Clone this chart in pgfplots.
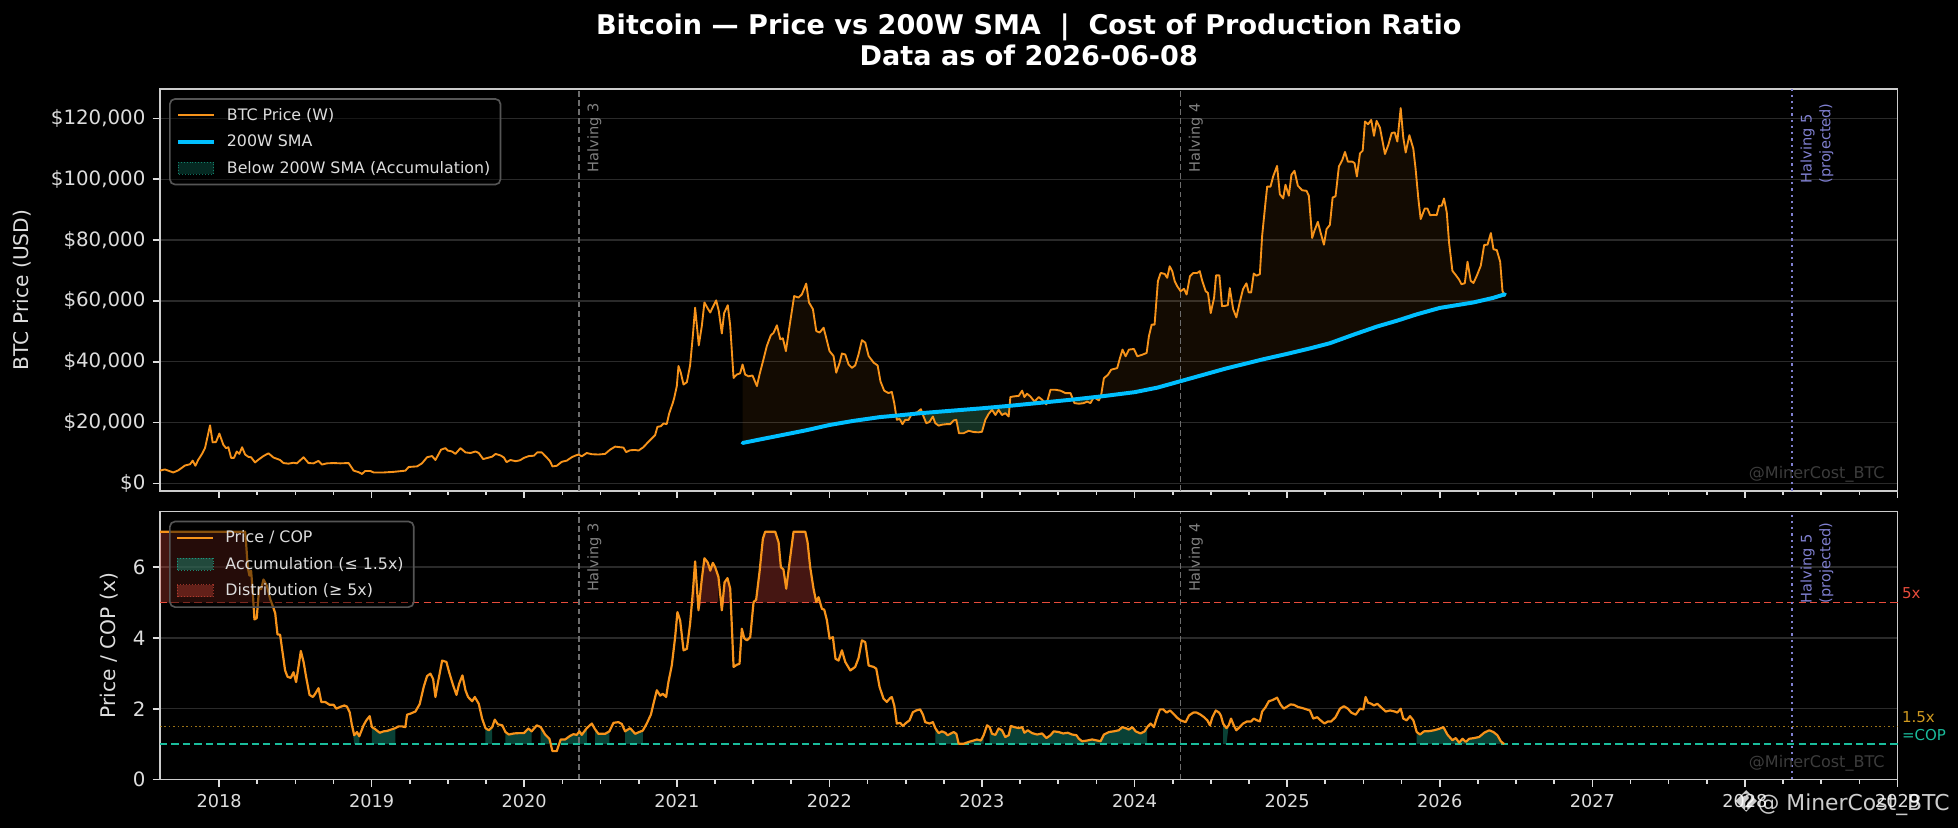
\documentclass[border=0pt]{standalone}
\usepackage{fontspec}
\setmainfont{DejaVu Sans}
\usepackage{pgfplots}
\pgfplotsset{compat=1.18}
\usepackage{pgfplotstable}
\pagecolor{black}
\definecolor{btc}{HTML}{F7931A}
\definecolor{sma}{HTML}{00BFFF}
\definecolor{acc}{HTML}{1ABC9C}
\definecolor{dist}{HTML}{E74C3C}
\definecolor{gridc}{HTML}{2A2A2A}
\definecolor{spine}{HTML}{CCCCCC}
\definecolor{tickc}{HTML}{DDDDDD}
\definecolor{halv}{HTML}{6E6E6E}
\definecolor{halvt}{HTML}{808080}
\definecolor{halv5}{HTML}{8080D0}
\definecolor{gold}{HTML}{D09A20}
\definecolor{legedge}{HTML}{555555}
\definecolor{wm}{HTML}{3C3C3C}

\pgfplotstableread{
x p
2017.613 4.2
2017.645 4.6
2017.700 3.6
2017.733 4.3
2017.777 5.9
2017.810 6.3
2017.827 7.5
2017.845 5.8
2017.864 7.8
2017.886 9.5
2017.908 11.6
2017.941 19.1
2017.958 13.5
2017.980 13.6
2018.002 16.4
2018.028 12.7
2018.046 11.6
2018.061 11.9
2018.079 8.4
2018.098 8.4
2018.116 10.5
2018.133 9.7
2018.151 11.9
2018.171 9.5
2018.193 8.7
2018.210 8.6
2018.236 6.9
2018.258 7.8
2018.291 9.0
2018.324 9.9
2018.357 8.5
2018.379 8.1
2018.400 7.7
2018.422 6.7
2018.455 6.5
2018.488 6.8
2018.510 6.6
2018.554 8.6
2018.586 6.7
2018.619 6.6
2018.652 7.4
2018.674 6.2
2018.707 6.6
2018.751 6.7
2018.794 6.6
2018.849 6.7
2018.882 4.2
2018.915 3.7
2018.937 3.1
2018.958 4.1
2018.991 4.1
2019.013 3.6
2019.079 3.6
2019.144 3.8
2019.221 4.2
2019.243 5.4
2019.298 5.6
2019.330 6.6
2019.363 8.6
2019.396 9.0
2019.418 7.7
2019.455 11.1
2019.484 11.6
2019.499 10.8
2019.527 10.5
2019.549 9.7
2019.582 11.6
2019.615 10.2
2019.648 10.0
2019.681 10.5
2019.702 10.0
2019.731 8.0
2019.768 8.5
2019.790 8.8
2019.812 9.7
2019.845 9.2
2019.867 8.5
2019.884 7.0
2019.910 7.7
2019.943 7.3
2019.972 7.6
2019.998 8.4
2020.031 9.0
2020.063 9.1
2020.085 10.2
2020.115 10.2
2020.148 8.5
2020.169 7.3
2020.185 5.6
2020.213 5.8
2020.246 7.1
2020.279 7.5
2020.311 8.6
2020.333 9.1
2020.355 9.5
2020.377 8.9
2020.410 10.0
2020.443 9.6
2020.486 9.5
2020.530 9.7
2020.563 11.1
2020.596 12.1
2020.628 11.9
2020.650 11.8
2020.668 10.3
2020.694 10.9
2020.727 11.0
2020.749 10.8
2020.781 11.9
2020.803 13.1
2020.836 14.8
2020.858 15.9
2020.873 18.6
2020.895 18.8
2020.913 19.7
2020.934 19.5
2020.950 23.0
2020.974 26.5
2020.983 28.1
2021.000 32.0
2021.011 38.6
2021.026 36.4
2021.044 32.5
2021.066 33.3
2021.087 38.8
2021.105 48.5
2021.120 57.8
2021.144 45.4
2021.164 51.8
2021.181 59.5
2021.203 57.5
2021.219 56.2
2021.240 58.4
2021.258 60.2
2021.275 56.7
2021.295 49.3
2021.310 56.0
2021.334 58.6
2021.350 51.8
2021.372 34.7
2021.393 35.8
2021.415 36.2
2021.431 39.1
2021.448 35.8
2021.470 35.2
2021.496 35.5
2021.525 32.0
2021.542 35.8
2021.568 40.8
2021.590 45.2
2021.616 48.7
2021.634 49.5
2021.656 52.0
2021.678 47.4
2021.695 47.7
2021.715 43.5
2021.739 51.8
2021.769 61.6
2021.798 61.1
2021.820 62.2
2021.848 65.7
2021.866 59.5
2021.892 57.3
2021.914 50.1
2021.936 49.6
2021.962 51.2
2021.984 46.9
2022.001 43.5
2022.027 41.9
2022.045 36.4
2022.067 39.7
2022.082 42.7
2022.104 42.4
2022.126 39.1
2022.148 38.0
2022.169 38.8
2022.191 42.4
2022.213 47.1
2022.235 46.3
2022.257 41.9
2022.290 39.7
2022.316 38.8
2022.335 33.5
2022.359 30.5
2022.387 29.7
2022.409 30.1
2022.425 26.4
2022.442 20.9
2022.460 21.2
2022.479 19.5
2022.497 20.9
2022.519 20.9
2022.540 22.9
2022.573 23.3
2022.600 24.4
2022.617 22.0
2022.635 19.8
2022.656 20.2
2022.678 22.0
2022.694 19.8
2022.716 19.0
2022.737 19.3
2022.770 19.5
2022.792 19.5
2022.814 20.7
2022.832 20.9
2022.849 16.5
2022.880 16.5
2022.912 17.3
2022.945 16.9
2022.978 16.8
2023.000 17.0
2023.022 20.9
2023.044 22.9
2023.066 24.2
2023.088 22.5
2023.109 24.2
2023.131 22.5
2023.153 23.1
2023.175 22.0
2023.186 28.4
2023.208 28.6
2023.241 28.8
2023.263 30.5
2023.278 28.4
2023.295 29.5
2023.317 28.6
2023.344 26.9
2023.372 28.4
2023.394 27.5
2023.422 26.0
2023.449 30.8
2023.481 30.8
2023.514 30.5
2023.547 29.7
2023.580 29.7
2023.606 26.4
2023.635 26.2
2023.667 26.4
2023.689 26.9
2023.711 26.4
2023.733 28.4
2023.766 27.3
2023.781 29.1
2023.799 34.6
2023.825 35.7
2023.847 37.4
2023.886 37.9
2023.904 41.2
2023.921 44.0
2023.941 41.8
2023.963 44.0
2023.996 44.2
2024.018 41.8
2024.050 42.3
2024.079 42.9
2024.094 48.4
2024.112 52.2
2024.131 52.2
2024.153 66.5
2024.171 69.2
2024.197 68.9
2024.214 67.6
2024.230 71.4
2024.247 69.8
2024.263 66.5
2024.280 64.8
2024.302 63.2
2024.324 64.0
2024.341 62.1
2024.363 68.1
2024.385 69.2
2024.411 69.2
2024.427 69.8
2024.444 66.5
2024.466 63.2
2024.481 62.6
2024.499 56.0
2024.521 61.0
2024.534 68.4
2024.556 68.4
2024.573 58.3
2024.595 58.4
2024.611 58.6
2024.624 64.2
2024.646 57.3
2024.667 54.6
2024.689 59.5
2024.711 63.9
2024.733 65.8
2024.748 62.8
2024.764 62.8
2024.781 69.0
2024.799 68.3
2024.821 68.8
2024.836 81.4
2024.858 92.4
2024.869 97.6
2024.891 97.6
2024.908 100.9
2024.934 104.4
2024.952 95.1
2024.974 93.7
2024.989 98.2
2025.011 94.6
2025.028 101.5
2025.048 102.8
2025.070 97.9
2025.098 96.4
2025.127 96.2
2025.142 94.6
2025.164 80.7
2025.179 83.1
2025.201 86.0
2025.219 82.5
2025.241 78.5
2025.258 83.6
2025.280 85.0
2025.298 94.0
2025.317 94.4
2025.339 104.2
2025.361 106.3
2025.379 109.0
2025.398 105.8
2025.427 105.8
2025.442 105.3
2025.457 100.9
2025.477 108.5
2025.495 109.4
2025.510 119.0
2025.530 118.1
2025.551 119.5
2025.569 114.3
2025.586 119.2
2025.608 117.0
2025.641 108.3
2025.663 111.3
2025.685 115.2
2025.705 115.4
2025.722 112.4
2025.744 123.4
2025.761 113.7
2025.777 108.8
2025.801 114.5
2025.827 110.0
2025.842 103.3
2025.860 93.5
2025.875 86.9
2025.902 90.4
2025.919 90.4
2025.937 88.2
2025.963 88.3
2025.980 88.2
2025.996 91.3
2026.013 91.3
2026.028 93.7
2026.046 89.1
2026.061 79.2
2026.083 69.9
2026.105 68.5
2026.127 67.0
2026.142 65.5
2026.164 65.8
2026.182 72.9
2026.203 66.6
2026.221 65.9
2026.243 68.3
2026.269 71.6
2026.291 78.4
2026.313 78.5
2026.335 82.3
2026.352 77.0
2026.374 76.7
2026.396 72.9
2026.411 63.3
2026.427 61.5
}\pricetab

\pgfplotstableread{
x s
2021.431 13.3
2021.55 14.5
2021.70 16.0
2021.85 17.5
2022.00 19.2
2022.15 20.5
2022.33 21.8
2022.44 22.3
2022.60 23.1
2022.80 23.9
2023.00 24.7
2023.20 25.6
2023.40 26.6
2023.60 27.6
2023.78 28.6
2024.00 30.0
2024.15 31.5
2024.30 33.6
2024.45 35.7
2024.60 37.8
2024.85 40.9
2025.00 42.6
2025.15 44.4
2025.28 46.1
2025.44 49.0
2025.59 51.6
2025.72 53.5
2025.85 55.6
2026.00 57.7
2026.22 59.5
2026.35 61.0
2026.427 62.2
}\smatab

\pgfplotstableread{
x r
2017.613 7.0
2018.171 7.0
2018.177 6.7
2018.188 6.0
2018.199 5.76
2018.210 5.9
2018.221 5.3
2018.232 4.52
2018.247 4.56
2018.263 5.43
2018.276 5.38
2018.291 5.65
2018.313 5.48
2018.335 5.1
2018.352 4.9
2018.368 4.7
2018.383 4.1
2018.400 4.09
2018.416 3.6
2018.433 3.08
2018.449 2.9
2018.470 2.87
2018.488 3.03
2018.505 2.75
2018.521 3.2
2018.536 3.63
2018.554 3.32
2018.571 2.89
2018.593 2.39
2018.615 2.33
2018.630 2.42
2018.652 2.58
2018.670 2.19
2018.696 2.19
2018.724 2.11
2018.751 2.11
2018.768 2.0
2018.794 2.05
2018.821 2.09
2018.838 2.06
2018.856 1.9
2018.871 1.53
2018.886 1.25
2018.904 1.34
2018.919 1.22
2018.947 1.53
2018.965 1.67
2018.987 1.79
2019.002 1.48
2019.024 1.42
2019.053 1.32
2019.079 1.36
2019.101 1.37
2019.127 1.41
2019.155 1.45
2019.177 1.5
2019.199 1.5
2019.221 1.48
2019.232 1.83
2019.254 1.86
2019.287 1.92
2019.315 2.13
2019.341 2.61
2019.363 2.92
2019.385 2.99
2019.403 2.84
2019.418 2.33
2019.435 2.75
2019.462 3.36
2019.490 3.32
2019.508 3.03
2019.534 2.66
2019.556 2.39
2019.573 2.70
2019.595 2.94
2019.615 2.52
2019.632 2.33
2019.659 2.21
2019.676 2.33
2019.702 2.14
2019.724 1.72
2019.746 1.45
2019.768 1.39
2019.790 1.48
2019.807 1.69
2019.827 1.56
2019.856 1.53
2019.877 1.34
2019.899 1.27
2019.932 1.30
2019.965 1.31
2019.998 1.31
2020.027 1.44
2020.049 1.36
2020.082 1.53
2020.108 1.48
2020.137 1.27
2020.165 1.15
2020.185 0.80
2020.213 0.80
2020.239 1.13
2020.268 1.13
2020.296 1.22
2020.322 1.28
2020.344 1.26
2020.362 1.36
2020.377 1.26
2020.410 1.45
2020.443 1.58
2020.464 1.42
2020.486 1.29
2020.530 1.29
2020.558 1.36
2020.585 1.6
2020.617 1.62
2020.639 1.57
2020.661 1.36
2020.694 1.45
2020.727 1.29
2020.753 1.34
2020.777 1.38
2020.803 1.58
2020.830 1.83
2020.847 2.14
2020.869 2.52
2020.891 2.37
2020.908 2.42
2020.930 2.33
2020.945 2.75
2020.967 3.22
2020.989 4.02
2021.004 4.73
2021.022 4.49
2021.044 3.65
2021.066 3.69
2021.087 4.4
2021.105 5.29
2021.120 6.16
2021.142 4.78
2021.164 5.67
2021.181 6.25
2021.203 6.13
2021.219 5.9
2021.236 6.12
2021.251 6.0
2021.273 5.72
2021.295 4.78
2021.313 5.57
2021.332 5.69
2021.350 5.39
2021.372 3.18
2021.393 3.24
2021.411 3.27
2021.426 4.26
2021.442 3.99
2021.459 3.93
2021.481 4.02
2021.503 5.01
2021.520 5.08
2021.542 5.86
2021.564 6.8
2021.579 7.0
2021.645 7.0
2021.667 6.7
2021.682 6.0
2021.699 5.93
2021.717 5.39
2021.739 6.14
2021.765 7.0
2021.842 7.0
2021.857 6.7
2021.874 6.0
2021.896 5.39
2021.914 5.01
2021.929 5.15
2021.951 4.82
2021.966 4.80
2021.984 4.49
2022.001 3.98
2022.023 4.02
2022.040 3.41
2022.060 3.36
2022.082 3.65
2022.104 3.32
2022.137 3.08
2022.169 3.18
2022.191 3.43
2022.213 3.93
2022.235 3.88
2022.257 3.22
2022.290 3.18
2022.307 3.13
2022.329 2.61
2022.355 2.28
2022.376 2.19
2022.398 2.30
2022.409 2.33
2022.425 2.09
2022.442 1.58
2022.464 1.60
2022.481 1.51
2022.503 1.60
2022.525 1.67
2022.547 1.9
2022.569 1.95
2022.595 1.98
2022.613 1.83
2022.628 1.62
2022.656 1.58
2022.678 1.62
2022.694 1.45
2022.716 1.31
2022.737 1.36
2022.759 1.32
2022.775 1.25
2022.792 1.29
2022.814 1.34
2022.832 1.29
2022.847 1.01
2022.880 1.01
2022.912 1.06
2022.945 1.10
2022.967 1.13
2022.993 1.10
2023.011 1.25
2023.033 1.53
2023.050 1.48
2023.066 1.29
2023.088 1.26
2023.109 1.44
2023.131 1.39
2023.153 1.2
2023.175 1.25
2023.190 1.51
2023.212 1.48
2023.241 1.45
2023.263 1.48
2023.278 1.32
2023.300 1.39
2023.328 1.31
2023.361 1.27
2023.394 1.30
2023.422 1.17
2023.449 1.25
2023.470 1.36
2023.503 1.34
2023.532 1.30
2023.562 1.32
2023.591 1.27
2023.619 1.25
2023.635 1.15
2023.656 1.08
2023.689 1.10
2023.722 1.13
2023.755 1.10
2023.777 1.08
2023.799 1.27
2023.832 1.34
2023.864 1.36
2023.897 1.39
2023.919 1.48
2023.941 1.45
2023.963 1.41
2023.985 1.48
2024.007 1.36
2024.039 1.30
2024.066 1.36
2024.083 1.48
2024.105 1.58
2024.127 1.48
2024.144 1.72
2024.166 1.98
2024.188 1.98
2024.210 1.89
2024.232 1.95
2024.254 1.86
2024.280 1.74
2024.302 1.67
2024.335 1.62
2024.357 1.81
2024.385 1.89
2024.407 1.89
2024.433 1.83
2024.455 1.76
2024.477 1.67
2024.494 1.53
2024.510 1.76
2024.532 1.95
2024.554 1.89
2024.566 1.80
2024.580 1.58
2024.602 1.45
2024.617 1.53
2024.632 1.72
2024.650 1.53
2024.667 1.39
2024.689 1.48
2024.711 1.58
2024.737 1.64
2024.764 1.64
2024.781 1.72
2024.803 1.67
2024.821 1.64
2024.836 1.92
2024.858 2.04
2024.880 2.21
2024.902 2.24
2024.934 2.31
2024.956 2.12
2024.978 2.0
2024.996 2.05
2025.022 2.12
2025.044 2.11
2025.070 2.05
2025.098 2.02
2025.127 1.98
2025.149 1.95
2025.171 1.72
2025.197 1.76
2025.219 1.67
2025.245 1.58
2025.267 1.64
2025.289 1.64
2025.317 1.76
2025.346 2.0
2025.372 2.07
2025.398 2.0
2025.420 1.89
2025.449 1.83
2025.477 2.0
2025.499 1.98
2025.514 2.33
2025.530 2.17
2025.551 2.14
2025.569 2.09
2025.591 2.14
2025.613 2.05
2025.646 1.92
2025.674 1.95
2025.705 1.92
2025.722 1.89
2025.744 2.0
2025.761 1.72
2025.783 1.67
2025.805 1.79
2025.827 1.67
2025.849 1.34
2025.871 1.27
2025.897 1.36
2025.923 1.36
2025.963 1.39
2025.996 1.43
2026.024 1.48
2026.050 1.27
2026.083 1.11
2026.105 1.17
2026.127 1.04
2026.149 1.15
2026.171 1.06
2026.193 1.15
2026.225 1.17
2026.258 1.20
2026.291 1.32
2026.324 1.39
2026.352 1.34
2026.378 1.25
2026.400 1.08
2026.422 1.0
}\ratiotab

\tikzset{
  wmark/.style={anchor=south east, text=wm, font=\fontsize{7.7}{9}\selectfont, inner sep=0pt},
  hlab/.style={xshift=3.8pt, rotate=90, anchor=north east, inner sep=0pt},
}
\pgfplotsset{
  common/.style={
    scale only axis, width=834pt,
    xmin=2017.613, xmax=2029.0,
    axis line style={spine, line width=0.8pt},
    tick style={tickc, line width=0.8pt},
    major tick length=3.5pt, minor tick length=2pt,
    tick align=outside,
    xtick pos=left, ytick pos=left,
    xtick={2018,2019,2020,2021,2022,2023,2024,2025,2026,2027,2028,2029},
    minor x tick num=3,
    ymajorgrids, grid style={gridc, line width=0.6pt},
    xticklabel style={text=tickc, font=\fontsize{8.5}{10}\selectfont},
    yticklabel style={text=tickc, font=\fontsize{9.5}{11}\selectfont},
    ylabel style={text=tickc, font=\fontsize{9.7}{11}\selectfont, anchor=center},
    clip=false,
    legend cell align=left,
    legend style={anchor=north west, fill=black, fill opacity=0.45,
      draw opacity=1, text opacity=1, draw=legedge, line width=0.8pt,
      rounded corners=2.5pt, text=tickc, font=\fontsize{7.6}{9}\selectfont,
      inner xsep=3pt, inner ysep=1.5pt,
      nodes={inner sep=1.9pt, text height=6.9pt, text depth=2pt},
      /tikz/every odd column/.append style={column sep=3.5pt}},
  },
  accfill/.style={fill=acc, fill opacity=0.35, draw=none, forget plot},
  distfill/.style={fill=dist, fill opacity=0.3, draw=none, forget plot},
}

\begin{document}
\begin{tikzpicture}[x=1pt,y=1pt]
\fill[black] (0,0) rectangle (939.84,397.44);

% ---------------- top panel ----------------
\begin{axis}[common,
  at={(76.8pt,161.9pt)}, anchor=south west, height=192.7pt,
  ymin=-2.4, ymax=129.6,
  ytick={0,20,40,60,80,100,120},
  yticklabels={{\$0},{\$20,000},{\$40,000},{\$60,000},{\$80,000},{\$100,000},{\$120,000}},
  xticklabels={},
  ylabel={BTC Price (USD)},
  ylabel style={at={(axis description cs:-0.0794,0.5)}},
  legend style={at={(0.0052,0.978)}},
]
\addlegendimage{btc, line width=0.9pt, mark=none}
\addlegendentry{BTC Price (W)}
\addlegendimage{sma, line width=1.9pt, mark=none}
\addlegendentry{200W SMA}
\addlegendimage{area legend, sharp corners, fill=acc, fill opacity=0.22, draw=acc, draw opacity=0.6, line width=0.4pt, densely dotted}
\addlegendentry{Below 200W SMA (Accumulation)}

% area between price and the 200W SMA
\addplot[fill=btc, fill opacity=0.08, draw=none, forget plot]
  table[x=x, y=p, restrict x to domain=2021.43:2027] {\pricetab}
  -- (axis cs:2026.427,62.2) -- (axis cs:2026.35,61.0) -- (axis cs:2026.22,59.5) -- (axis cs:2026.00,57.7)
  -- (axis cs:2025.85,55.6) -- (axis cs:2025.72,53.5) -- (axis cs:2025.59,51.6) -- (axis cs:2025.44,49.0)
  -- (axis cs:2025.28,46.1) -- (axis cs:2025.15,44.4) -- (axis cs:2025.00,42.6) -- (axis cs:2024.85,40.9)
  -- (axis cs:2024.60,37.8) -- (axis cs:2024.45,35.7) -- (axis cs:2024.30,33.6) -- (axis cs:2024.15,31.5)
  -- (axis cs:2024.00,30.0) -- (axis cs:2023.78,28.6) -- (axis cs:2023.60,27.6) -- (axis cs:2023.40,26.6)
  -- (axis cs:2023.20,25.6) -- (axis cs:2023.00,24.7) -- (axis cs:2022.80,23.9) -- (axis cs:2022.60,23.1)
  -- (axis cs:2022.44,22.3) -- (axis cs:2022.33,21.8) -- (axis cs:2022.15,20.5) -- (axis cs:2022.00,19.2)
  -- (axis cs:2021.85,17.5) -- (axis cs:2021.70,16.0) -- (axis cs:2021.55,14.5) -- (axis cs:2021.431,13.3) -- cycle;

% price below the 200W SMA
\addplot[fill=acc, fill opacity=0.22, draw=none, forget plot] coordinates {
(2022.438,22.27) (2022.442,20.9) (2022.460,21.2) (2022.479,19.5) (2022.497,20.9) (2022.519,20.9)
(2022.538,22.75) (2022.540,22.9) (2022.573,23.3) (2022.600,24.4) (2022.609,23.15) (2022.617,22.0) (2022.635,19.8) (2022.656,20.2)
(2022.678,22.0) (2022.694,19.8) (2022.716,19.0) (2022.737,19.3) (2022.770,19.5) (2022.792,19.5)
(2022.814,20.7) (2022.832,20.9) (2022.849,16.5) (2022.880,16.5) (2022.912,17.3) (2022.945,16.9)
(2022.978,16.8) (2023.000,17.0) (2023.022,20.9) (2023.044,22.9) (2023.066,24.2) (2023.088,22.5)
(2023.109,24.2) (2023.131,22.5) (2023.153,23.1) (2023.175,22.0) (2023.181,25.6) (2023.00,24.7)
(2022.80,23.9) (2022.609,23.15) (2022.538,22.75) (2022.44,22.3)};
\addplot[fill=acc, fill opacity=0.22, draw=none, forget plot] coordinates {
(2023.597,27.58) (2023.606,26.4) (2023.635,26.2) (2023.667,26.4) (2023.689,26.9) (2023.711,26.4)
(2023.733,28.4) (2023.766,27.3) (2023.776,28.58) (2023.60,27.6)};

\addplot[halv, line width=0.7pt, dash pattern=on 2.8pt off 1.6pt, forget plot]
  coordinates {(2020.358,-2.4) (2020.358,129.6)};
\addplot[halv, line width=0.7pt, dash pattern=on 2.8pt off 1.6pt, forget plot]
  coordinates {(2024.30,-2.4) (2024.30,129.6)};
\addplot[halv5, line width=1.1pt, dash pattern=on 1.1pt off 1.9pt, forget plot]
  coordinates {(2028.31,-2.4) (2028.31,129.6)};

\addplot[btc, line width=0.9pt, line join=round, forget plot] table[x=x, y=p] {\pricetab};
\addplot[sma, line width=1.9pt, line join=round, line cap=round, forget plot] table[x=x, y=s] {\smatab};

\node[hlab, text=halvt, font=\fontsize{7}{8.5}\selectfont] at (axis cs:2020.358,125.1) {Halving 3};
\node[hlab, text=halvt, font=\fontsize{7}{8.5}\selectfont] at (axis cs:2024.30,125.1) {Halving 4};
\node[hlab, text=halv5, font=\fontsize{7}{9}\selectfont, align=left] at (axis cs:2028.31,125.1) {Halving 5\\(projected)};
\node[wmark] at (rel axis cs:0.9928,0.02) {@MinerCost\_BTC};
\end{axis}

% ---------------- bottom panel ----------------
\begin{axis}[common,
  at={(76.8pt,23.3pt)}, anchor=south west, height=128.6pt,
  ymin=0, ymax=7.57,
  ytick={0,2,4,6}, yticklabels={0,2,4,6},
  xticklabels={2018,2019,2020,2021,2022,2023,2024,2025,2026,2027,2028,2029},
  ylabel={Price / COP (x)},
  ylabel style={at={(axis description cs:-0.0294,0.5)}},
  legend style={at={(0.0052,0.966)}},
]
\addlegendimage{btc, line width=1.2pt, mark=none}
\addlegendentry{Price / COP}
\addlegendimage{area legend, sharp corners, fill=acc, fill opacity=0.35, draw=acc, draw opacity=0.7, line width=0.4pt, densely dotted}
\addlegendentry{Accumulation (≤ 1.5x)}
\addlegendimage{area legend, sharp corners, fill=dist, fill opacity=0.32, draw=dist, draw opacity=0.6, line width=0.4pt, densely dotted}
\addlegendentry{Distribution (≥ 5x)}

% distribution fills (ratio >= 5)
\addplot[distfill] table[x=x, y=r, restrict x to domain=2017.600:2018.222] {\ratiotab} -- (axis cs:2018.221,5) -- (axis cs:2017.613,5) -- cycle;
\addplot[distfill] table[x=x, y=r, restrict x to domain=2018.260:2018.340] {\ratiotab} -- (axis cs:2018.335,5) -- (axis cs:2018.263,5) -- cycle;
\addplot[distfill] table[x=x, y=r, restrict x to domain=2021.100:2021.130] {\ratiotab} -- (axis cs:2021.120,5) -- (axis cs:2021.105,5) -- cycle;
\addplot[distfill] table[x=x, y=r, restrict x to domain=2021.150:2021.280] {\ratiotab} -- (axis cs:2021.273,5) -- (axis cs:2021.164,5) -- cycle;
\addplot[distfill] table[x=x, y=r, restrict x to domain=2021.305:2021.352] {\ratiotab} -- (axis cs:2021.350,5) -- (axis cs:2021.313,5) -- cycle;
\addplot[distfill] table[x=x, y=r, restrict x to domain=2021.500:2021.935] {\ratiotab} -- (axis cs:2021.929,5) -- (axis cs:2021.503,5) -- cycle;

% accumulation fills (ratio <= 1.5)
\addplot[accfill] table[x=x, y=r, restrict x to domain=2018.880:2018.925] {\ratiotab} -- (axis cs:2018.919,1) -- (axis cs:2018.886,1) -- cycle;
\addplot[accfill] table[x=x, y=r, restrict x to domain=2019.000:2019.160] {\ratiotab} -- (axis cs:2019.155,1) -- (axis cs:2019.002,1) -- cycle;
\addplot[accfill] table[x=x, y=r, restrict x to domain=2019.740:2019.795] {\ratiotab} -- (axis cs:2019.790,1) -- (axis cs:2019.746,1) -- cycle;
\addplot[accfill] table[x=x, y=r, restrict x to domain=2019.870:2020.055] {\ratiotab} -- (axis cs:2020.049,1) -- (axis cs:2019.877,1) -- cycle;
\addplot[accfill] table[x=x, y=r, restrict x to domain=2020.100:2020.170] {\ratiotab} -- (axis cs:2020.165,1) -- (axis cs:2020.108,1) -- cycle;
\addplot[accfill] table[x=x, y=r, restrict x to domain=2020.235:2020.415] {\ratiotab} -- (axis cs:2020.410,1) -- (axis cs:2020.239,1) -- cycle;
\addplot[accfill] table[x=x, y=r, restrict x to domain=2020.460:2020.560] {\ratiotab} -- (axis cs:2020.558,1) -- (axis cs:2020.464,1) -- cycle;
\addplot[accfill] table[x=x, y=r, restrict x to domain=2020.655:2020.780] {\ratiotab} -- (axis cs:2020.777,1) -- (axis cs:2020.661,1) -- cycle;
\addplot[accfill] table[x=x, y=r, restrict x to domain=2022.690:2023.015] {\ratiotab} -- (axis cs:2023.011,1) -- (axis cs:2022.694,1) -- cycle;
\addplot[accfill] table[x=x, y=r, restrict x to domain=2023.045:2024.085] {\ratiotab} -- (axis cs:2024.083,1) -- (axis cs:2023.050,1) -- cycle;
\addplot[accfill] table[x=x, y=r, restrict x to domain=2024.578:2024.605] {\ratiotab} -- (axis cs:2024.602,1) -- (axis cs:2024.580,1) -- cycle;
\addplot[accfill] table[x=x, y=r, restrict x to domain=2025.845:2026.425] {\ratiotab} -- (axis cs:2026.422,1) -- (axis cs:2025.849,1) -- cycle;

% reference lines
\addplot[dist, line width=0.9pt, dash pattern=on 3.5pt off 2pt, forget plot] coordinates {(2017.613,5) (2029,5)};
\addplot[gold, opacity=0.75, line width=0.8pt, dash pattern=on 0.8pt off 1.3pt, forget plot] coordinates {(2017.613,1.5) (2029,1.5)};
\addplot[acc, line width=0.9pt, dash pattern=on 3.5pt off 2pt, forget plot] coordinates {(2017.613,1) (2029,1)};

\addplot[halv, line width=0.7pt, dash pattern=on 2.8pt off 1.6pt, forget plot]
  coordinates {(2020.358,0) (2020.358,7.57)};
\addplot[halv, line width=0.7pt, dash pattern=on 2.8pt off 1.6pt, forget plot]
  coordinates {(2024.30,0) (2024.30,7.57)};
\addplot[halv5, line width=1.1pt, dash pattern=on 1.1pt off 1.9pt, forget plot]
  coordinates {(2028.31,0) (2028.31,7.57)};

\addplot[btc, line width=1.05pt, line join=round, forget plot] table[x=x, y=r] {\ratiotab};

\node[hlab, text=halvt, font=\fontsize{7}{8.5}\selectfont] at (axis cs:2020.358,7.26) {Halving 3};
\node[hlab, text=halvt, font=\fontsize{7}{8.5}\selectfont] at (axis cs:2024.30,7.26) {Halving 4};
\node[hlab, text=halv5, font=\fontsize{7}{9}\selectfont, align=left] at (axis cs:2028.31,7.26) {Halving 5\\(projected)};

\node[anchor=south west, text=dist, font=\fontsize{7.2}{8}\selectfont, inner sep=0pt, xshift=2pt, yshift=1.6pt] at (axis cs:2029,5) {5x};
\node[anchor=south west, text=gold, font=\fontsize{7.2}{8}\selectfont, inner sep=0pt, xshift=2pt, yshift=1.6pt] at (axis cs:2029,1.5) {1.5x};
\node[anchor=south west, text=acc, font=\fontsize{7.2}{8}\selectfont, inner sep=0pt, xshift=2pt, yshift=1.6pt] at (axis cs:2029,1.0) {=COP};
\node[wmark] at (rel axis cs:0.9928,0.03) {@MinerCost\_BTC};
\end{axis}

% title and figure watermark
\node[text=white, align=center, font=\fontsize{13}{14.8}\selectfont\bfseries] at (493.8,378.2)
  {Bitcoin — Price vs 200W SMA\ \ |\ \ Cost of Production Ratio\\Data as of 2026-06-08};
\node[anchor=base east, text=white, opacity=0.8, font=\fontsize{10.5}{12}\selectfont, inner sep=0pt] at (936,8.2)
  {\symbol{"FFFD}@ MinerCost\_BTC};

\pgfresetboundingbox
\path[use as bounding box] (0,0) rectangle (939.84,397.44);
\end{tikzpicture}
\end{document}
